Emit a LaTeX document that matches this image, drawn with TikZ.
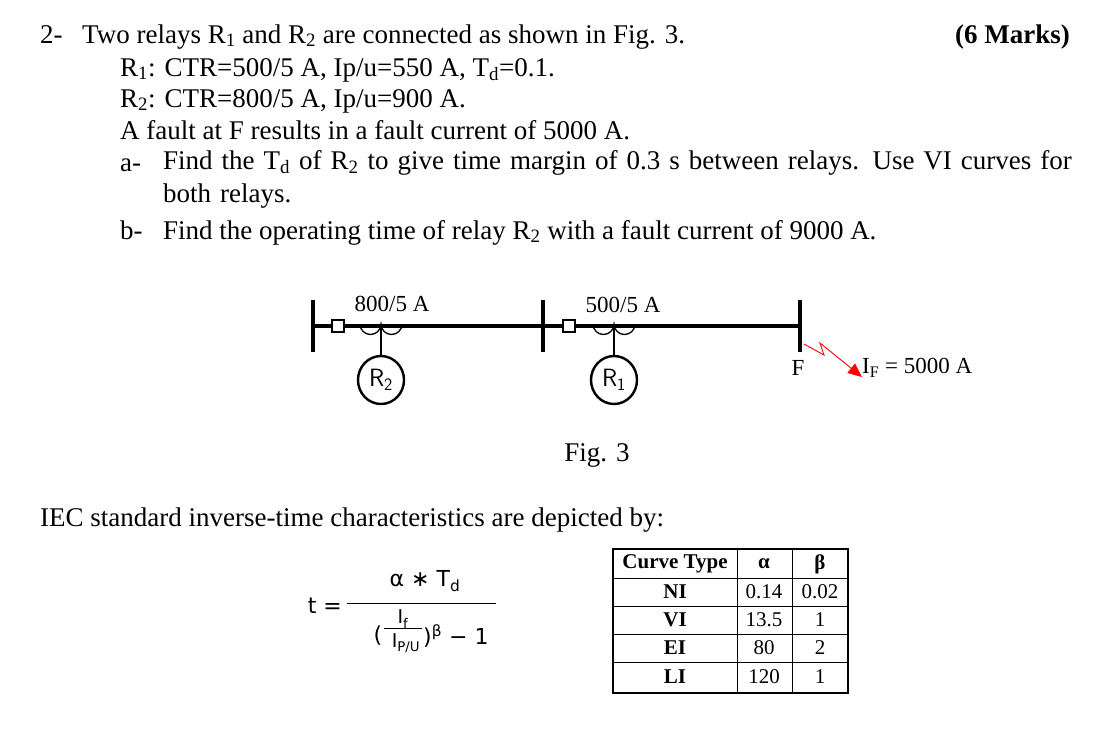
\documentclass[tikz,border=0pt]{standalone}
\usepackage{fontspec}
\setmainfont{Liberation Serif}
\newfontfamily\eqf{DejaVu Sans}
\usetikzlibrary{arrows.meta,shapes.geometric}
\begin{document}
\begin{tikzpicture}[x=1pt,y=-1pt,
  txt/.style={anchor=base west,inner sep=0pt,font=\fontsize{27}{33}\selectfont},
  lbl/.style={inner sep=0pt,font=\fontsize{23}{26}\selectfont},
  bus/.style={line width=4.5pt},
  brk/.style={draw,line width=2.4pt,minimum size=12pt,inner sep=0pt,fill=white},
  relay/.style={draw,line width=2.4pt,ellipse,minimum width=46pt,minimum height=48pt,inner sep=0pt,font=\sffamily\fontsize{25}{26}\selectfont},
  eq/.style={inner sep=0pt,font=\eqf\fontsize{22}{24}\selectfont},
  eqs/.style={inner sep=0pt,font=\eqf\fontsize{19}{20}\selectfont},
  cell/.style={inner sep=0pt,font=\fontsize{21}{24}\selectfont}]
\useasboundingbox (0,0) rectangle (1114,731);
% text
\node[txt] (l1a) at (40,43) {2-};
\node[txt] (l1b) at (82,43) {Two relays R\textsubscript{1} and R\textsubscript{2} are connected as shown in Fig. 3.};
\node[txt,anchor=base east,font=\bfseries\fontsize{27}{33}\selectfont] (marks) at (1070,43) {(6 Marks)};
\node[txt] (l2) at (120,76) {R\textsubscript{1}: CTR=500/5 A, Ip/u=550 A, T\textsubscript{d}=0.1.};
\node[txt] (l3) at (120,107) {R\textsubscript{2}: CTR=800/5 A, Ip/u=900 A.};
\node[txt] (l4) at (120,139) {A fault at F results in a fault current of 5000 A.};
\node[txt] (l5a) at (120,171) {a-};
\node[txt,anchor=north west,text width=910pt] (l5b) at (163,150) {\hyphenpenalty=10000 Find the T\textsubscript{d} of R\textsubscript{2} to give time margin of 0.3 s between relays. Use VI curves for both relays.};
\node[txt] (l7a) at (120,239) {b-};
\node[txt] (l7b) at (163,239) {Find the operating time of relay R\textsubscript{2} with a fault current of 9000 A.};
% one-line diagram
\coordinate (b1t) at (313,300); \coordinate (b1b) at (313,352);
\coordinate (b2t) at (543,300); \coordinate (b2b) at (543,352);
\coordinate (b3t) at (800,300); \coordinate (b3b) at (800,352);
\coordinate (la) at (313,326); \coordinate (lb) at (800,326);
\draw[bus] (b1t) -- (b1b); \draw[bus] (b2t) -- (b2b); \draw[bus] (b3t) -- (b3b);
\draw[bus] (la) -- (lb);
\node[brk] (cb2) at (338,326) {};
\node[brk] (cb1) at (569,326) {};
\draw[line width=1.3pt] (360,324) arc (180:0:10.5) arc (180:0:10.5);
\draw[line width=1.3pt] (593,324) arc (180:0:10.5) arc (180:0:10.5);
\node[relay] (r2) at (381,380) {R\textsubscript{2}};
\node[relay] (r1) at (614,380) {R\textsubscript{1}};
\coordinate (t2) at (381,326); \coordinate (t1) at (614,326);
\draw[line width=2.4pt] (t2) -- (r2.north);
\draw[line width=2.4pt] (t1) -- (r1.north);
\node[lbl] (ct2) at (392,304) {800/5 A};
\node[lbl] (ct1) at (623,305) {500/5 A};
\node[lbl] (F) at (798,368) {F};
\coordinate (z0) at (804,344);
\coordinate (z1) at (824,355);
\coordinate (z2) at (820,343);
\coordinate (z3) at (862,377);
\draw[red,line width=0.9pt,-{Triangle[length=14pt,width=12pt]}] (z0) -- (z1) -- (z2) -- (z3);
\node[lbl,anchor=west] (IF) at (862,368) {I\textsubscript{F} = 5000 A};
\node[txt,anchor=center] (fig) at (597,455) {Fig. 3};
\node[txt] (iec) at (40,526) {IEC standard inverse-time characteristics are depicted by:};
% formula
\node[eq,anchor=east] (teq) at (342,606) {t =};
\node[eq] (num) at (425,581) {α ∗ T\textsubscript{d}};
\draw[line width=1pt] (347,603) -- (496,603);
\node[eq] (lp) at (378,636) {(};
\node[eqs] (ifn) at (403,619) {I\textsubscript{f}};
\draw[line width=0.8pt] (384,628) -- (422,628);
\node[eqs] (ipu) at (406,643) {I\textsubscript{P/U}};
\node[eq,anchor=west] (rest) at (423,636) {)\textsuperscript{β} − 1};
% table
\draw[line width=1.6pt] (613,549) rectangle (848,693);
\foreach \y in {578,606,634,662} \draw[line width=0.8pt] (613,\y) -- (848,\y);
\draw[line width=0.8pt] (737,549) -- (737,693);
\draw[line width=0.8pt] (792,549) -- (792,693);
\node[cell,font=\bfseries\fontsize{21}{24}\selectfont] (h1) at (675,564) {Curve Type};
\node[cell,font=\bfseries\fontsize{21}{24}\selectfont] (h2) at (764,564) {α};
\node[cell,font=\bfseries\fontsize{21}{24}\selectfont] (h3) at (820,564) {β};
\foreach \n/\a/\b/\y in {NI/0.14/0.02/592,VI/13.5/1/620,EI/80/2/648,LI/120/1/677}{
  \node[cell,font=\bfseries\fontsize{21}{24}\selectfont] at (675,\y) {\n};
  \node[cell] at (764,\y) {\a};
  \node[cell] at (820,\y) {\b};
}
\end{tikzpicture}
\end{document}
